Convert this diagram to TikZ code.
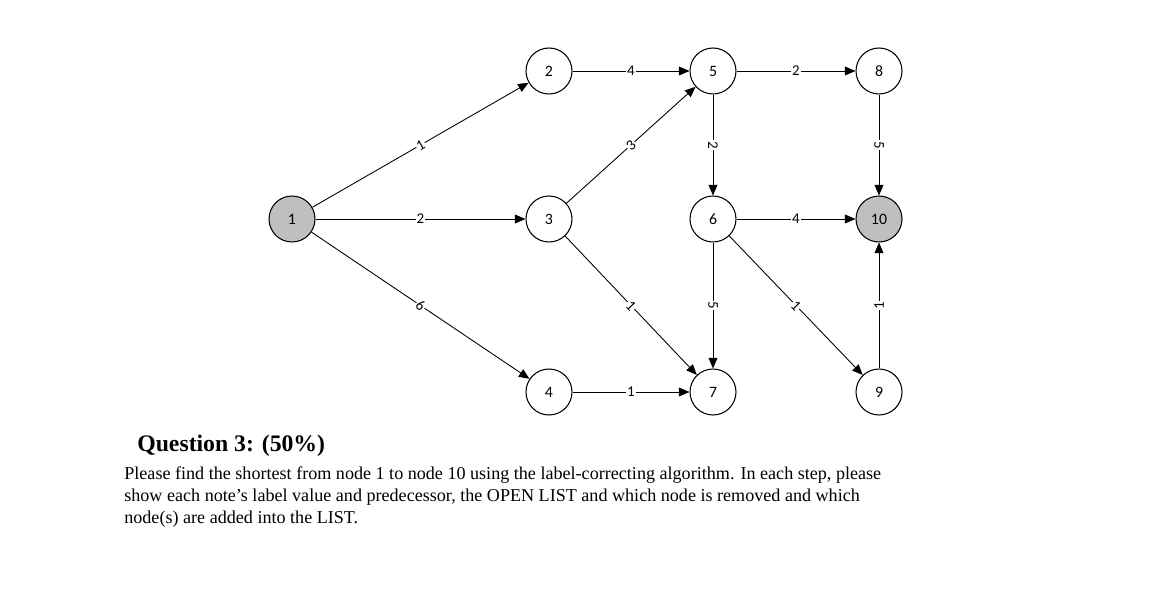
\documentclass[tikz,border=0pt]{standalone}
\usepackage{fontspec}
\setmainfont{Liberation Serif}
\newfontfamily\nodefont{Carlito}
\usetikzlibrary{arrows.meta}
\begin{document}
\begin{tikzpicture}[x=0.02cm,y=-0.02cm,
  nd/.style={circle,draw,line width=0.6pt,minimum size=0.92cm,inner sep=0pt,font=\nodefont\fontsize{9}{10}\selectfont,fill=white},
  gn/.style={nd,fill=black!25},
  ed/.style={line width=0.5pt,-{Triangle[length=6pt,width=5pt]}},
  lb/.style={midway,sloped,fill=white,inner sep=0.5pt,font=\nodefont\fontsize{8.5}{9}\selectfont}]
\useasboundingbox (0,0) rectangle (1170,611);
\node[gn] (n1) at (292,219) {1};
\node[nd] (n2) at (549,71) {2};
\node[nd] (n3) at (549,219) {3};
\node[nd] (n4) at (549,392) {4};
\node[nd] (n5) at (713,71) {5};
\node[nd] (n6) at (713,219) {6};
\node[nd] (n7) at (713,392) {7};
\node[nd] (n8) at (879,71) {8};
\node[nd] (n9) at (879,392) {9};
\node[gn] (n10) at (879,219) {10};
\draw[ed] (n1) -- node[lb]{1} (n2);
\draw[ed] (n1) -- node[lb]{2} (n3);
\draw[ed] (n1) -- node[lb]{6} (n4);
\draw[ed] (n2) -- node[lb]{4} (n5);
\draw[ed] (n3) -- node[lb]{3} (n5);
\draw[ed] (n3) -- node[lb]{1} (n7);
\draw[ed] (n4) -- node[lb]{1} (n7);
\draw[ed] (n5) -- node[lb]{2} (n8);
\draw[ed] (n5) -- node[lb]{2} (n6);
\draw[ed] (n8) -- node[lb]{5} (n10);
\draw[ed] (n6) -- node[lb]{4} (n10);
\draw[ed] (n6) -- node[lb]{5} (n7);
\draw[ed] (n6) -- node[lb]{1} (n9);
\draw[ed] (n9) -- node[lb]{1} (n10);
\node[anchor=west,font=\fontsize{13.5}{15}\selectfont\bfseries,inner sep=0pt] (q) at (137,446) {Question 3: (50\%)};
\node[anchor=north west,align=left,inner sep=0pt,font=\fontsize{10.3}{12.5}\selectfont] (t) at (124,466)
{Please find the shortest from node 1 to node 10 using the label-correcting algorithm. In each step, please\\
show each note's label value and predecessor, the OPEN LIST and which node is removed and which\\
node(s) are added into the LIST.};
\end{tikzpicture}
\end{document}
